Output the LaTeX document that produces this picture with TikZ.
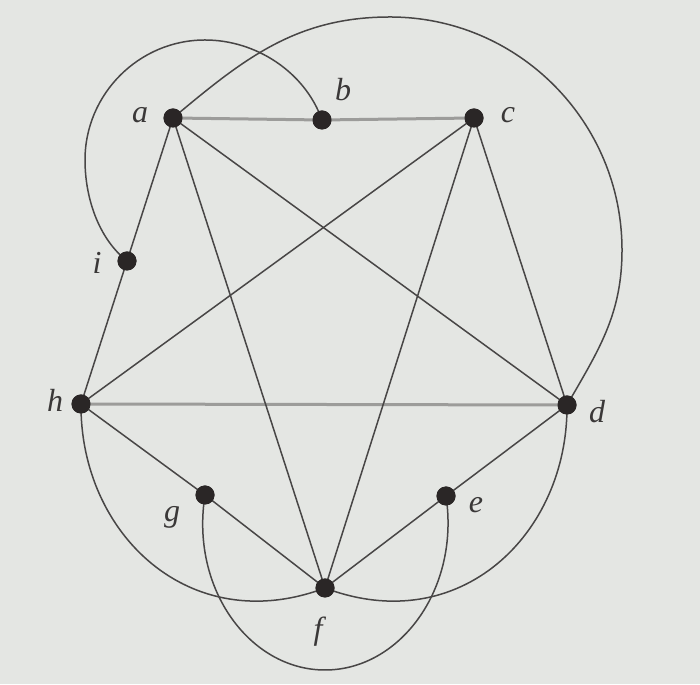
\documentclass[tikz,border=0pt]{standalone}
\usepackage{fontspec}
\setmainfont{Liberation Serif}
\definecolor{bg}{HTML}{E4E6E3}
\definecolor{edge}{HTML}{484646}
\definecolor{hedge}{HTML}{9C9C9A}
\definecolor{dot}{HTML}{2A2626}
\definecolor{txt}{HTML}{3A3838}
\begin{document}
\begin{tikzpicture}[x=1pt,y=1pt,
  vtx/.style={circle,fill=dot,inner sep=0pt,minimum size=19pt},
  lab/.style={font=\fontsize{32}{32}\selectfont\itshape,text=txt,inner sep=0pt},
  ln/.style={draw=edge,line width=1.5pt},
  hl/.style={draw=hedge,line width=3pt}]
\fill[bg] (0,0) rectangle (700,684);
\useasboundingbox (0,0) rectangle (700,684);
% vertices
\node[vtx] (a) at (173,566) {};
\node[vtx] (b) at (322,564) {};
\node[vtx] (c) at (474,566) {};
\node[vtx] (d) at (567,279) {};
\node[vtx] (e) at (446,188) {};
\node[vtx] (f) at (325,96) {};
\node[vtx] (g) at (205,189) {};
\node[vtx] (h) at (81,280) {};
\node[vtx] (i) at (127,423) {};
% labels
\node[lab] (la) at (140,569) {a};
\node[lab] (lb) at (343,594) {b};
\node[lab] (lc) at (508,569) {c};
\node[lab] (ld) at (597,272) {d};
\node[lab] (le) at (476,179) {e};
\node[lab] (lf) at (318,52) {f};
\node[lab] (lg) at (172,167) {g};
\node[lab] (lh) at (55,284) {h};
\node[lab] (li) at (97,421) {i};
% straight edges
\path[hl] (a.center) -- (b.center) -- (c.center);
\path[hl] (h.center) -- (d.center);
\path[ln] (a.center) -- (i.center) -- (h.center);
\path[ln] (a.center) -- (f.center);
\path[ln] (a.center) -- (d.center);
\path[ln] (c.center) -- (h.center);
\path[ln] (c.center) -- (f.center);
\path[ln] (c.center) -- (d.center);
\path[ln] (h.center) -- (g.center) -- (f.center);
\path[ln] (f.center) -- (e.center) -- (d.center);
% curved edges
\path[ln] (i.center) .. controls (98,446) and (85,487) .. (85,524)
  .. controls (85,590) and (139,644) .. (205,644)
  .. controls (256,644) and (305,612) .. (b.center);
\path[ln] (a.center) to[out=40,in=180] (390,667) to[out=0,in=90] (622,434) to[out=-90,in=60] (d.center);
\path[ln] (h.center) .. controls (80,150) and (190,45) .. (f.center);
\path[ln] (d.center) .. controls (568,150) and (460,45) .. (f.center);
\path[ln] (g.center) .. controls (190,95) and (250,14) .. (325,14)
  .. controls (400,14) and (460,95) .. (e.center);
% vertices on top
\foreach \v in {a,b,c,d,e,f,g,h,i}{\fill[dot] (\v) circle (9.5pt);}
\end{tikzpicture}
\end{document}
